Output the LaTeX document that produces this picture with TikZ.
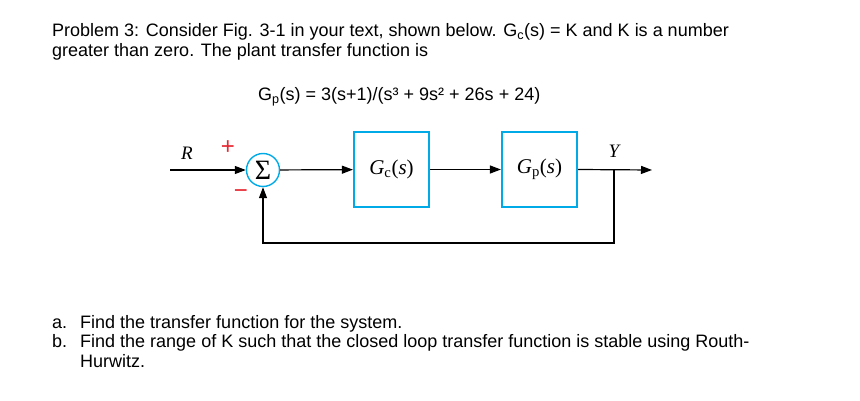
\documentclass[tikz,border=0pt]{standalone}
\usepackage{fontspec}
\setmainfont{Liberation Sans}
\newfontfamily\serif{Liberation Serif}
\usetikzlibrary{arrows.meta}
\definecolor{bblue}{RGB}{0,170,230}
\definecolor{pred}{RGB}{230,40,50}
\begin{document}
\begin{tikzpicture}[x=1pt,y=-1pt,
  txt/.style={anchor=base west,inner sep=0pt,font=\fontsize{18}{21}\selectfont},
  blk/.style={draw=bblue,line width=2.2pt,minimum width=75pt,minimum height=75pt,inner sep=0pt,font=\serif\fontsize{21}{24}\selectfont},
  sig/.style={-{Triangle[length=11pt,width=8pt]},line width=1.2pt},
  lbl/.style={font=\serif\itshape\fontsize{19}{22}\selectfont,inner sep=0pt}]
\useasboundingbox (0,0) rectangle (860,401);
\node[txt] (t1) at (52,37) {Problem 3: Consider Fig. 3-1 in your text, shown below. G\textsubscript{c}(s) = K and K is a number};
\node[txt] (t2) at (52,57) {greater than zero. The plant transfer function is};
\node[txt] (t3) at (258,101) {G\textsubscript{p}(s) = 3(s+1)/(s³ + 9s² + 26s + 24)};
\node[circle,draw=bblue,line width=1.4pt,minimum size=33pt,inner sep=0pt,font=\serif\fontsize{28}{30}\selectfont] (sum) at (263,170) {Σ};
\node[blk] (gc) at (391.5,169.5) {\textit{G}\textsubscript{c}(\textit{s})};
\node[blk] (gp) at (539.5,169.5) {\textit{G}\textsubscript{p}(\textit{s})};
\coordinate (in) at (170,170);
\coordinate (br) at (614,170);
\coordinate (out) at (652,170);
\coordinate (fb) at (614,243);
\coordinate (fs) at (263,243);
\draw[sig] (in) -- (sum);
\draw[sig] (sum) -- (gc);
\draw[sig] (gc) -- (gp);
\draw[sig] (gp.east) -- (out);
\draw[sig] (br) -- (fb) -- (fs) -- (sum);
\node[lbl] (r) at (187,153) {R};
\node[lbl] (y) at (614,151) {Y};
\node[text=pred,font=\fontsize{24}{26}\selectfont,inner sep=0pt] (plus) at (228,148) {+};
\node[text=pred,font=\fontsize{24}{26}\selectfont,inner sep=0pt] (minus) at (241,194) {−};
\node[txt] (a1) at (52,328) {a.};
\node[txt] (a2) at (80,328) {Find the transfer function for the system.};
\node[txt] (b1) at (52,347) {b.};
\node[txt] (b2) at (80,347) {Find the range of K such that the closed loop transfer function is stable using Routh-};
\node[txt] (b3) at (80,367) {Hurwitz.};
\end{tikzpicture}
\end{document}
